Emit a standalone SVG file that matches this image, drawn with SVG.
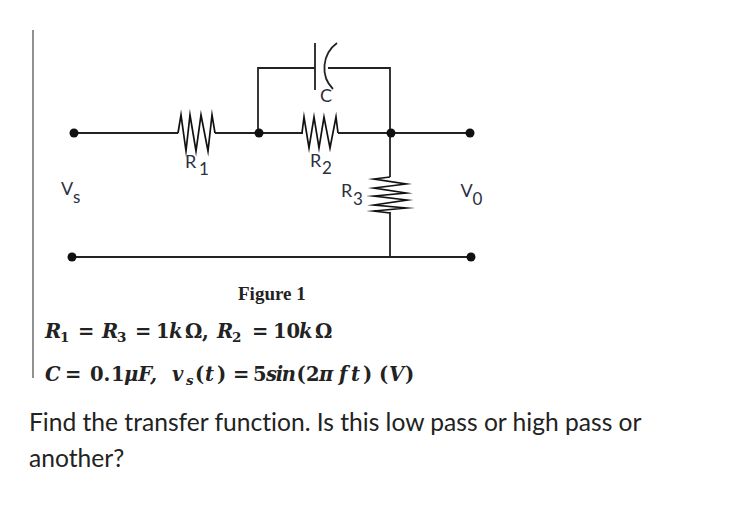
<svg xmlns="http://www.w3.org/2000/svg" width="756" height="523" viewBox="0 0 756 523">
<style>
.w{fill:none;stroke:#222;stroke-width:1.8}
.z{fill:none;stroke:#111;stroke-width:1.7;stroke-miterlimit:12}
.d{fill:#111}
.l{font-family:"Lato","Noto Sans",sans-serif;font-size:18px;fill:#2a3040}
.s{font-size:17px}
.f{font-family:"Liberation Serif",serif;font-weight:bold;font-size:19px;fill:#222}
.m{font-family:"DejaVu Serif",serif;font-weight:bold;font-size:19.5px;fill:#222}
.i{font-style:italic}
.b{font-size:13.5px}
.t{font-family:"Lato","Noto Sans",sans-serif;font-size:24.6px;fill:#222;font-variant-ligatures:none}
</style>
<rect width="756" height="523" fill="#fff"/>
<g id="margin-rule"><path d="M33 30V378" fill="none" stroke="#555" stroke-width="1.3"/></g>
<g id="connectors">
<path class="w" d="M74 133H178M215 133H303M338 133H470M258 133V68H315M328 68H390V177M390 212V257M72 257H471"/>
</g>
<g id="R1"><path class="z" d="M178 133L181 115L186 151L190 115L196 151L201 115L208 151L212 115L215 133"/><text class="l" x="185" y="168">R</text><text class="l s" x="199" y="175">1</text></g>
<g id="R2"><path class="z" d="M302 133L304 117L309 148L314 117L319 148L324 117L330 148L336 117L338 133"/><text class="l" x="310" y="167">R</text><text class="l s" x="322" y="174">2</text></g>
<g id="R3"><path class="z" d="M390 177L374 179L406 184L374 188L406 193L374 196L407 200L374 205L406 208L374 211L390 213"/><text class="l" x="341" y="197">R</text><text class="l s" x="353" y="205">3</text></g>
<g id="C"><path class="w" d="M315 43V90M337 43C322 54 320 76 333 89"/><text class="l" x="320" y="102">C</text></g>
<g id="nodes">
<circle id="n1" class="d" cx="74" cy="133" r="4.5"/>
<circle id="n2" class="d" cx="259" cy="133" r="4.5"/>
<circle id="n3" class="d" cx="391" cy="133" r="4.5"/>
<circle id="n4" class="d" cx="470" cy="133" r="4.5"/>
<circle id="n5" class="d" cx="72" cy="257" r="4.5"/>
<circle id="n6" class="d" cx="471" cy="257" r="4.5"/>
</g>
<g id="Vs"><text class="l" x="61" y="195">V</text><text class="l s" x="73" y="203">s</text></g>
<g id="Vo"><text class="l" x="460.5" y="197">V</text><text class="l s" x="472.5" y="205">0</text></g>
<g id="caption">
<text class="f" x="238" y="300">Figure 1</text>
<text class="m" y="338"><tspan class="i" x="45">R</tspan><tspan class="b" x="60" dy="4">1</tspan><tspan x="78" dy="-4">=</tspan><tspan class="i" x="102">R</tspan><tspan class="b" x="117" dy="4">3</tspan><tspan x="135" dy="-4">=</tspan><tspan x="156">1</tspan><tspan class="i" x="169">k</tspan><tspan x="185">Ω</tspan><tspan x="202">,</tspan><tspan class="i" x="217">R</tspan><tspan class="b" x="232" dy="4">2</tspan><tspan x="252" dy="-4">=</tspan><tspan x="273">10</tspan><tspan class="i" x="299">k</tspan><tspan x="315">Ω</tspan></text>
<text class="m" y="381"><tspan class="i" x="45">C</tspan><tspan x="65">=</tspan><tspan x="90">0.</tspan><tspan x="111">1</tspan><tspan class="i" x="124">μF,</tspan><tspan class="i" x="172">v</tspan><tspan class="b i" x="186" dy="4">s</tspan><tspan x="195" dy="-4">(</tspan><tspan class="i" x="205">t</tspan><tspan x="217">)</tspan><tspan x="233">=</tspan><tspan x="253">5</tspan><tspan class="i" x="266" textLength="30">sin</tspan><tspan x="296.5">(</tspan><tspan x="306">2</tspan><tspan class="i" x="319">π</tspan><tspan class="i" x="339">f</tspan><tspan class="i" x="351">t</tspan><tspan x="363">)</tspan><tspan x="379">(</tspan><tspan class="i" x="389">V</tspan><tspan x="405">)</tspan></text>
</g>
<g id="question">
<text class="t" x="29" y="431">Find the transfer function. Is this low pass or high pass or</text>
<text class="t" x="29" y="467">another?</text>
</g>
</svg>
